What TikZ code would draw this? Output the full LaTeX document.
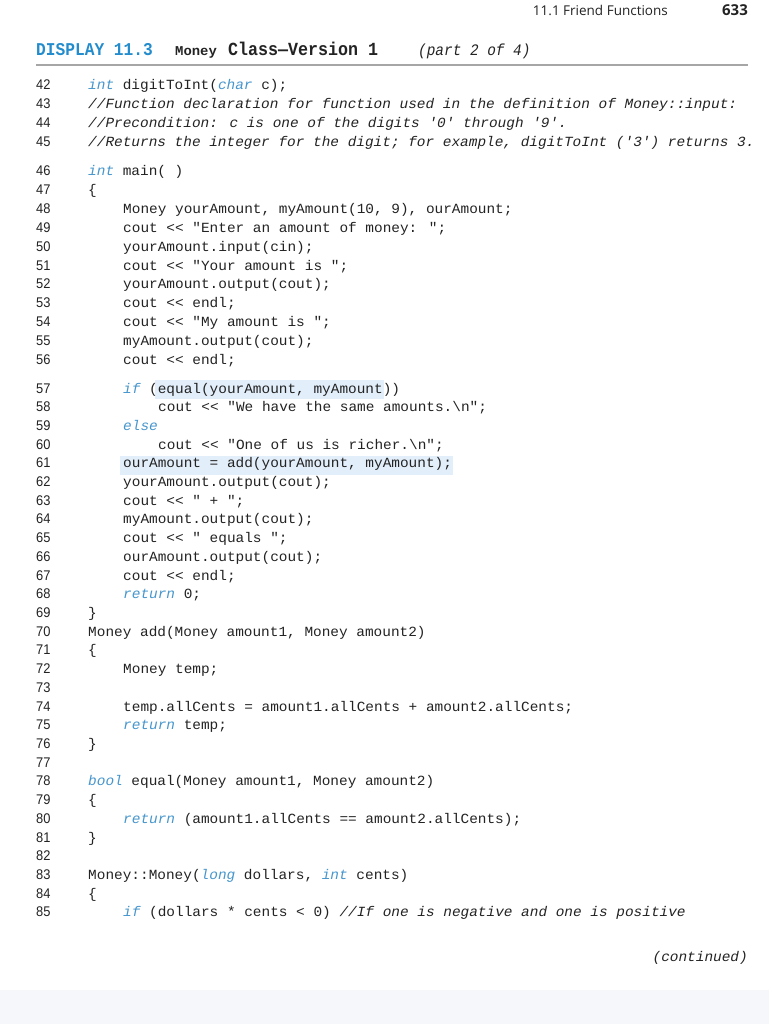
\documentclass[tikz,border=0pt]{standalone}
\usepackage{fontspec}
\newfontfamily\codefont{Liberation Mono}[Ligatures=TeXOff,FakeStretch=1.03]
\newfontfamily\numfont{Liberation Sans}[FakeStretch=0.92]
\newfontfamily\headfont{Open Sans}
\newfontfamily\dispfont{Liberation Mono}[Ligatures=TeXOff,FakeStretch=0.9]
\definecolor{txt}{RGB}{35,35,35}
\definecolor{kw}{RGB}{70,150,205}
\definecolor{disp}{RGB}{35,140,205}
\definecolor{hl}{RGB}{226,238,250}
\definecolor{band}{RGB}{246,247,250}
\newcommand\kw[1]{\textcolor{kw}{\itshape #1}}
\newcommand\cl[4]{\node[numst] (n#1) at (36,{#2}) {#1};\node[codest] (c#1) at ({88+35*#3},{#2}) {#4};}
\begin{document}
\begin{tikzpicture}[x=1pt,y=-1pt,
  numst/.style={anchor=west,inner sep=0pt,text height=10pt,text depth=2pt,font=\numfont\fontsize{14}{16}\selectfont,text=txt},
  codest/.style={anchor=west,inner sep=0pt,text height=10pt,text depth=2pt,font=\codefont\fontsize{14}{16}\selectfont,text=txt}]
\useasboundingbox (0,0) rectangle (769,1024);
\fill[white] (0,0) rectangle (769,1024);
\fill[band] (0,990) rectangle (769,1024);
% highlights
\fill[hl] (155,380) rectangle (384,399);
\fill[hl] (120,456) rectangle (453,475);
% header
\node[anchor=base east,inner sep=0pt,text=txt,font=\headfont\fontsize{13.5}{15}\selectfont] (hd) at (668,16) {11.1 Friend Functions};
\node[anchor=base east,inner sep=0pt,text=txt,font=\headfont\bfseries\fontsize{15}{17}\selectfont] (pg) at (748,16) {633};
\node[anchor=base west,inner sep=0pt,text=disp,font=\dispfont\bfseries\fontsize{18}{20}\selectfont] (dsp) at (36,56) {DISPLAY 11.3};
\node[anchor=base west,inner sep=0pt,text=txt,font=\codefont\bfseries\fontsize{13.5}{15}\selectfont] (mn) at (175,56) {Money};
\node[anchor=base west,inner sep=0pt,text=txt,font=\dispfont\bfseries\fontsize{18.5}{20}\selectfont] (cv) at (228,56) {Class—Version 1};
\node[anchor=base west,inner sep=0pt,text=txt,font=\dispfont\itshape\fontsize{16}{18}\selectfont] (pt) at (418,56) {(part 2 of 4)};
\coordinate (r1) at (36,65); \coordinate (r2) at (748,65);
\draw[line width=1.5pt,gray!70] (r1) -- (r2);
% code
\cl{42}{86}{0}{\kw{int} digitToInt(\kw{char} c);}
\cl{43}{86+18.67}{0}{\itshape //Function declaration for function used in the definition of Money::input:}
\cl{44}{86+18.67*2}{0}{\itshape //Precondition: c is one of the digits '0' through '9'.}
\cl{45}{86+18.67*3}{0}{\itshape //Returns the integer for the digit; for example, digitToInt ('3') returns 3.}
\cl{46}{172}{0}{\kw{int} main( )}
\cl{47}{172+18.8}{0}{\{}
\cl{48}{172+18.8*2}{1}{Money yourAmount, myAmount(10, 9), ourAmount;}
\cl{49}{172+18.8*3}{1}{cout << "Enter an amount of money: ";}
\cl{50}{172+18.8*4}{1}{yourAmount.input(cin);}
\cl{51}{172+18.8*5}{1}{cout << "Your amount is ";}
\cl{52}{172+18.8*6}{1}{yourAmount.output(cout);}
\cl{53}{172+18.8*7}{1}{cout << endl;}
\cl{54}{172+18.8*8}{1}{cout << "My amount is ";}
\cl{55}{172+18.8*9}{1}{myAmount.output(cout);}
\cl{56}{172+18.8*10}{1}{cout << endl;}
\cl{57}{389}{1}{\kw{if} (equal(yourAmount, myAmount))}
\cl{58}{389+18.71}{2}{cout << "We have the same amounts.\textbackslash n";}
\cl{59}{389+18.71*2}{1}{\kw{else}}
\cl{60}{389+18.71*3}{2}{cout << "One of us is richer.\textbackslash n";}
\cl{61}{389+18.71*4}{1}{ourAmount = add(yourAmount, myAmount);}
\cl{62}{389+18.71*5}{1}{yourAmount.output(cout);}
\cl{63}{389+18.71*6}{1}{cout << " + ";}
\cl{64}{389+18.71*7}{1}{myAmount.output(cout);}
\cl{65}{389+18.71*8}{1}{cout << " equals ";}
\cl{66}{389+18.71*9}{1}{ourAmount.output(cout);}
\cl{67}{389+18.71*10}{1}{cout << endl;}
\cl{68}{389+18.71*11}{1}{\kw{return} 0;}
\cl{69}{389+18.71*12}{0}{\}}
\cl{70}{389+18.71*13}{0}{Money add(Money amount1, Money amount2)}
\cl{71}{389+18.71*14}{0}{\{}
\cl{72}{389+18.71*15}{1}{Money temp;}
\cl{73}{389+18.71*16}{1}{}
\cl{74}{389+18.71*17}{1}{temp.allCents = amount1.allCents + amount2.allCents;}
\cl{75}{389+18.71*18}{1}{\kw{return} temp;}
\cl{76}{389+18.71*19}{0}{\}}
\cl{77}{389+18.71*20}{0}{}
\cl{78}{389+18.71*21}{0}{\kw{bool} equal(Money amount1, Money amount2)}
\cl{79}{389+18.71*22}{0}{\{}
\cl{80}{389+18.71*23}{1}{\kw{return} (amount1.allCents == amount2.allCents);}
\cl{81}{389+18.71*24}{0}{\}}
\cl{82}{389+18.71*25}{0}{}
\cl{83}{389+18.71*26}{0}{Money::Money(\kw{long} dollars, \kw{int} cents)}
\cl{84}{389+18.71*27}{0}{\{}
\cl{85}{389+18.71*28}{1}{\kw{if} (dollars * cents < 0) {\itshape //If one is negative and one is positive}}
\node[anchor=base east,inner sep=0pt,text=txt,font=\codefont\itshape\fontsize{14}{16}\selectfont] (cont) at (748,961) {(continued)};
\end{tikzpicture}
\end{document}
